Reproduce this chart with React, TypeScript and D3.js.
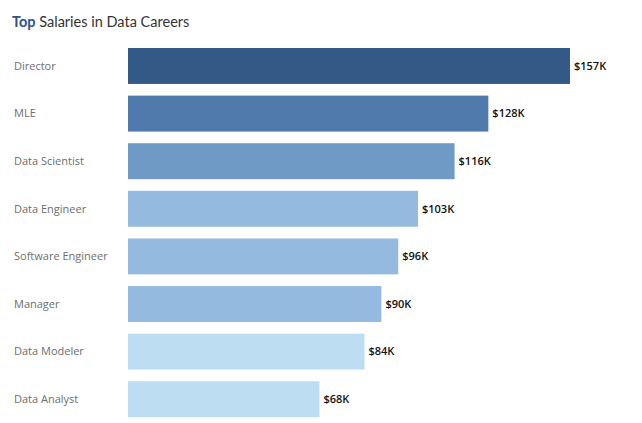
import { useEffect, useRef } from 'react';
import * as d3 from 'd3';

const ROLES = [
  'Director', 'MLE', 'Data Scientist', 'Data Engineer',
  'Software Engineer', 'Manager', 'Data Modeler', 'Data Analyst',
];
const SALARIES = [157, 128, 116, 103, 96, 90, 84, 68];
const BAR_COLORS = [
  '#335a87', '#4f79ab', '#6f9ac6', '#94bbdf',
  '#94bbdf', '#94bbdf', '#bddef2', '#bddef2',
];

const WIDTH = 642;
const HEIGHT = 423;

export default function App() {
  const svgRef = useRef<SVGSVGElement>(null);

  useEffect(() => {
    if (!svgRef.current) return;
    const svg = d3.select(svgRef.current);
    svg.selectAll('*').remove();

    const font = '"Open Sans", Lato, sans-serif';
    const data = ROLES.map((role, i) => ({ role, value: SALARIES[i], color: BAR_COLORS[i] }));

    const x = d3.scaleLinear().domain([0, 157]).range([128, 570]);
    const y = d3.scaleBand<string>().domain(ROLES).range([42.2, 423]).paddingInner(0.245).paddingOuter(0.122);

    const title = svg.append('text')
      .attr('x', 12).attr('y', 27)
      .attr('font-family', 'Lato, "Open Sans", sans-serif').attr('font-size', 14.5);
    title.append('tspan').attr('fill', '#2f5486').attr('font-weight', 700).text('Top');
    title.append('tspan').attr('fill', '#333333').text(' Salaries in Data Careers');

    const row = svg.append('g').selectAll('g').data(data).join('g');

    row.append('rect')
      .attr('x', x(0))
      .attr('y', d => y(d.role)!)
      .attr('width', d => x(d.value) - x(0))
      .attr('height', y.bandwidth())
      .attr('fill', d => d.color);

    row.append('text')
      .attr('x', 14)
      .attr('y', d => y(d.role)! + y.bandwidth() / 2)
      .attr('dy', '0.35em')
      .attr('font-family', font).attr('font-size', 11)
      .attr('fill', '#6e6e6e')
      .text(d => d.role);

    row.append('text')
      .attr('x', d => x(d.value) + 4)
      .attr('y', d => y(d.role)! + y.bandwidth() / 2)
      .attr('dy', '0.35em')
      .attr('font-family', font).attr('font-size', 11).attr('font-weight', 600)
      .attr('fill', '#111111')
      .text(d => `$${d.value}K`);
  }, []);

  return (
    <svg ref={svgRef} width={WIDTH} height={HEIGHT}
      style={{ position: 'absolute', left: 0, top: 0, background: '#ffffff' }} />
  );
}
